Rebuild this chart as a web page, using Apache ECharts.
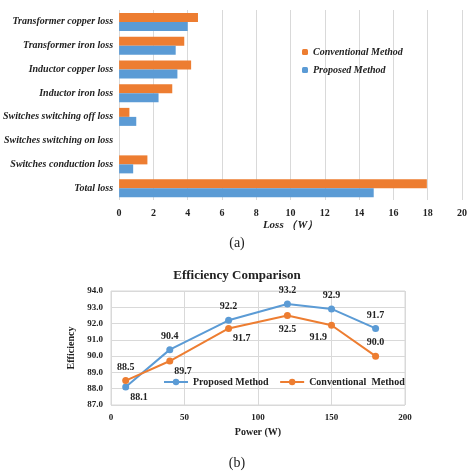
<!DOCTYPE html>
<html><head><meta charset="utf-8">
<script src="https://cdn.jsdelivr.net/npm/echarts@6/dist/echarts.min.js"></script>
<style>html,body{margin:0;padding:0;background:#fff}#main{width:474px;height:471px}</style>
</head><body><div id="main"></div>
<script>
var lossCategories = ['Transformer copper loss', 'Transformer iron loss', 'Inductor copper loss', 'Inductor iron loss',
    'Switches switching off loss', 'Switches switching on loss', 'Switches conduction loss', 'Total loss'];
var lossConventional = [4.6, 3.8, 4.2, 3.1, 0.6, 0, 1.65, 17.95];
var lossProposed = [4.0, 3.3, 3.4, 2.3, 1.0, 0, 0.82, 14.85];

var powerX = [10, 40, 80, 120, 150, 180];
var effProposed = [88.1, 90.4, 92.2, 93.2, 92.9, 91.7];
var effConventional = [88.5, 89.7, 91.7, 92.5, 91.9, 90.0];
var propLabelPos = ['right', 'top', 'top', 'top', 'top', 'top'];
var convLabelPos = ['top', 'right', 'right', 'bottom', 'left', 'top'];

var FONT = 'Liberation Serif';
var ORANGE = '#ED7D31', BLUE = '#5B9BD5';

function pts(xs, ys, pos) {
    return xs.map(function (x, i) {
        var p = pos[i];
        var off = p === 'right' ? [-4, 10] : p === 'left' ? [4, 12] : [0, 0];
        return { value: [x, ys[i]], label: { position: p, offset: off } };
    });
}

var chart = echarts.init(document.getElementById('main'));
chart.setOption({
    animation: false,
    textStyle: { fontFamily: FONT },
    title: [
        { text: 'Efficiency Comparison', left: 'center', top: 264, textStyle: { fontFamily: FONT, fontSize: 13, fontWeight: 'bold', color: '#222' } },
        { text: '(a)', left: 'center', top: 231, textStyle: { fontFamily: FONT, fontSize: 14, fontWeight: 'normal', color: '#222' } },
        { text: '(b)', left: 'center', top: 451, textStyle: { fontFamily: FONT, fontSize: 14, fontWeight: 'normal', color: '#222' } }
    ],
    legend: [
        { data: ['Conventional Method', 'Proposed Method'], orient: 'vertical', left: 297, top: 42, itemWidth: 6, itemHeight: 6, itemGap: 8,
          textStyle: { fontFamily: FONT, fontStyle: 'italic', fontWeight: 'bold', fontSize: 10, color: '#222' } },
        { data: ['Proposed Method ', 'Conventional  Method'], left: 158, top: 372, itemWidth: 24, itemHeight: 8, itemGap: 8,
          textStyle: { fontFamily: FONT, fontWeight: 'bold', fontSize: 10, color: '#222' } }
    ],
    grid: [
        { left: 116, right: 12, top: 10, height: 190 },
        { left: 111, right: 69, top: 291, height: 114, show: true, borderColor: '#d9d9d9', borderWidth: 1 }
    ],
    xAxis: [
        { gridIndex: 0, type: 'value', min: 0, max: 20, interval: 2, name: 'Loss （W）', nameLocation: 'middle', nameGap: 20,
          nameTextStyle: { fontFamily: FONT, fontStyle: 'italic', fontWeight: 'bold', fontSize: 11, color: '#222' },
          axisLine: { show: false }, axisTick: { show: false },
          axisLabel: { fontFamily: FONT, fontWeight: 'bold', fontSize: 10, color: '#222' },
          splitLine: { lineStyle: { color: '#d9d9d9' } } },
        { gridIndex: 1, type: 'value', min: 0, max: 200, interval: 50, name: 'Power (W)', nameLocation: 'middle', nameGap: 22,
          nameTextStyle: { fontFamily: FONT, fontWeight: 'bold', fontSize: 10, color: '#222' },
          axisLine: { show: false }, axisTick: { show: false },
          axisLabel: { fontFamily: FONT, fontWeight: 'bold', fontSize: 9, color: '#222' },
          splitLine: { lineStyle: { color: '#d9d9d9' } } }
    ],
    yAxis: [
        { gridIndex: 0, type: 'category', inverse: true, data: lossCategories,
          axisLine: { show: false }, axisTick: { show: false },
          axisLabel: { fontFamily: FONT, fontStyle: 'italic', fontWeight: 'bold', fontSize: 10, color: '#222', margin: 6 } },
        { gridIndex: 1, type: 'value', min: 87, max: 94, interval: 1, name: 'Efficiency', nameLocation: 'middle', nameGap: 30,
          nameTextStyle: { fontFamily: FONT, fontWeight: 'bold', fontSize: 10, color: '#222' },
          axisLine: { show: false }, axisTick: { show: false },
          axisLabel: { fontFamily: FONT, fontWeight: 'bold', fontSize: 9, color: '#222', formatter: function (v) { return v.toFixed(1); } },
          splitLine: { lineStyle: { color: '#d9d9d9' } } }
    ],
    series: [
        { name: 'Conventional Method', type: 'bar', xAxisIndex: 0, yAxisIndex: 0, data: lossConventional,
          barWidth: 9, barGap: '0%', itemStyle: { color: ORANGE } },
        { name: 'Proposed Method', type: 'bar', xAxisIndex: 0, yAxisIndex: 0, data: lossProposed,
          barWidth: 9, itemStyle: { color: BLUE } },
        { name: 'Proposed Method ', type: 'line', xAxisIndex: 1, yAxisIndex: 1, data: pts(powerX, effProposed, propLabelPos),
          symbol: 'circle', symbolSize: 7, itemStyle: { color: BLUE }, lineStyle: { color: BLUE, width: 2 },
          label: { show: true, fontFamily: FONT, fontWeight: 'bold', fontSize: 10, color: '#222',
                   formatter: function (p) { return p.value[1].toFixed(1); } } },
        { name: 'Conventional  Method', type: 'line', xAxisIndex: 1, yAxisIndex: 1, data: pts(powerX, effConventional, convLabelPos),
          symbol: 'circle', symbolSize: 7, itemStyle: { color: ORANGE }, lineStyle: { color: ORANGE, width: 2 },
          label: { show: true, fontFamily: FONT, fontWeight: 'bold', fontSize: 10, color: '#222',
                   formatter: function (p) { return p.value[1].toFixed(1); } } }
    ]
});
</script>
</body></html>
